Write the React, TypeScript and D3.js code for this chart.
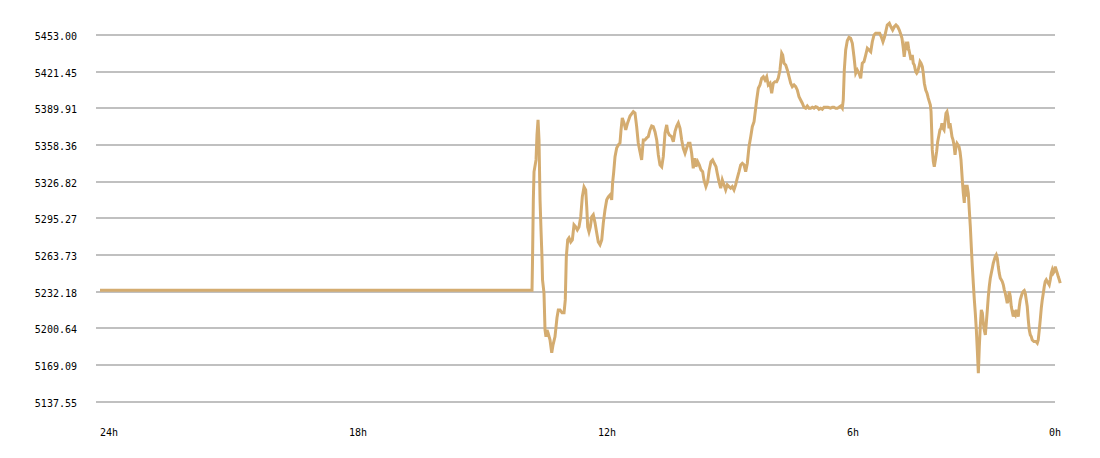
import React from "react";
import * as d3 from "d3";

// Y-axis tick values (price)
const yTicks = [5137.55, 5169.09, 5200.64, 5232.18, 5263.73, 5295.27, 5326.82, 5358.36, 5389.91, 5421.45, 5453.0];

// X-axis ticks: minutes since the start of the 24h window, with labels
const xTickMinutes = [0, 360, 720, 1080, 1440];
const xTickLabels = ["24h", "18h", "12h", "6h", "0h"];

// Price series: [minutes since window start, price]
const priceSeries: [number, number][] = [
  [0, 5233.4], [624.6, 5233.4], [625.3, 5257.7], [626.5, 5311.1], [627.5, 5335.2], [630.4, 5345.5],
  [631.8, 5367.0], [633.3, 5379.9], [634.7, 5362.7], [635.4, 5338.6], [636.2, 5311.1], [637.6, 5285.3],
  [639.0, 5262.0], [639.8, 5242.3], [641.9, 5231.1], [643.4, 5199.2], [644.8, 5193.2], [646.3, 5199.2],
  [647.7, 5196.7], [650.6, 5190.6], [653.1, 5179.5], [655.0, 5186.3], [657.8, 5193.2], [660.7, 5209.6],
  [662.6, 5216.4], [665.1, 5216.4], [668.0, 5213.9], [670.9, 5213.9], [672.7, 5225.0], [674.2, 5262.0],
  [676.2, 5276.7], [678.1, 5278.4], [680.6, 5274.9], [682.9, 5276.7], [685.3, 5289.6], [687.8, 5287.8],
  [690.1, 5285.3], [692.5, 5287.8], [695.0, 5296.4], [697.3, 5313.7], [699.8, 5322.3], [702.2, 5319.7],
  [703.7, 5305.1], [705.1, 5287.8], [707.0, 5283.5], [708.9, 5287.8], [710.9, 5296.4], [713.2, 5298.2],
  [715.7, 5291.3], [718.1, 5282.7], [720.4, 5274.9], [722.9, 5272.4], [725.4, 5276.7], [727.7, 5291.3],
  [730.1, 5302.5], [732.6, 5311.1], [734.9, 5313.7], [737.4, 5315.4], [739.8, 5311.1], [741.1, 5325.7],
  [742.6, 5334.3], [744.6, 5348.3], [747.0, 5355.8], [749.4, 5358.4], [751.8, 5360.1], [753.3, 5371.3],
  [755.1, 5381.6], [757.6, 5377.3], [760.1, 5371.3], [762.8, 5377.3], [766.3, 5383.3], [771.1, 5387.0],
  [773.5, 5385.9], [775.9, 5374.1], [778.2, 5360.1], [780.7, 5352.6], [783.1, 5345.5], [785.5, 5362.7],
  [787.9, 5362.7], [790.4, 5364.4], [792.7, 5365.5], [795.2, 5371.3], [797.6, 5374.7], [799.9, 5374.1],
  [802.4, 5369.8], [804.9, 5362.7], [807.2, 5349.8], [809.6, 5341.2], [812.1, 5339.5], [814.4, 5348.3],
  [816.9, 5368.7], [819.3, 5375.6], [820.8, 5369.8], [823.1, 5367.0], [826.5, 5365.5], [828.9, 5361.2],
  [831.3, 5369.8], [833.8, 5374.7], [836.1, 5377.3], [838.6, 5372.7], [841.0, 5362.7], [843.3, 5355.5],
  [845.8, 5351.2], [848.1, 5355.5], [850.6, 5359.8], [853.0, 5359.8], [855.4, 5351.2], [857.7, 5338.3],
  [860.2, 5346.9], [861.6, 5339.7], [864.1, 5344.0], [866.4, 5341.2], [868.9, 5336.9], [871.3, 5335.4],
  [873.2, 5328.3], [876.0, 5322.5], [878.5, 5326.8], [880.8, 5336.9], [883.3, 5344.0], [885.7, 5345.5],
  [888.0, 5342.6], [890.6, 5339.7], [892.4, 5334.0], [894.9, 5326.8], [897.4, 5321.1], [899.7, 5328.3],
  [902.2, 5324.0], [904.6, 5319.7], [906.9, 5324.0], [909.4, 5322.5], [911.8, 5321.1], [914.1, 5322.5],
  [916.6, 5319.7], [919.0, 5324.0], [921.3, 5329.7], [923.9, 5335.4], [926.3, 5341.2], [928.6, 5342.6],
  [931.1, 5341.2], [933.5, 5335.4], [935.9, 5342.6], [938.3, 5356.9], [940.8, 5365.5], [943.1, 5374.1],
  [945.6, 5378.4], [949.4, 5397.1], [951.8, 5407.2], [954.2, 5410.0], [956.7, 5415.8], [959.0, 5417.1],
  [961.5, 5414.3], [963.9, 5417.1], [966.2, 5410.0], [968.7, 5411.5], [971.1, 5402.9], [973.4, 5411.5],
  [975.9, 5412.8], [978.3, 5412.8], [980.6, 5415.8], [983.1, 5422.9], [985.6, 5437.3], [987.0, 5435.8],
  [988.9, 5428.7], [991.4, 5427.2], [993.7, 5422.9], [996.2, 5417.1], [998.6, 5411.5], [1000.9, 5408.5],
  [1003.4, 5410.0], [1005.8, 5408.5], [1008.1, 5405.7], [1010.6, 5399.9], [1013.0, 5397.1], [1015.4, 5394.3],
  [1017.8, 5390.8], [1020.3, 5390.0], [1022.6, 5391.9], [1025.1, 5390.0], [1027.4, 5390.0], [1029.8, 5390.8],
  [1032.3, 5390.0], [1034.7, 5391.3], [1037.0, 5390.8], [1039.5, 5389.1], [1041.9, 5390.0], [1044.3, 5389.1],
  [1046.8, 5390.8], [1049.6, 5390.8], [1052.5, 5390.8], [1056.3, 5390.0], [1058.7, 5390.8], [1061.2, 5390.8],
  [1063.6, 5390.0], [1066.0, 5390.0], [1068.4, 5390.8], [1070.9, 5391.9], [1073.2, 5390.0], [1074.6, 5397.1],
  [1076.1, 5422.9], [1078.1, 5440.1], [1080.4, 5448.1], [1082.9, 5451.0], [1085.3, 5450.2], [1087.7, 5445.9],
  [1090.1, 5434.3], [1092.6, 5420.1], [1094.9, 5422.9], [1097.4, 5420.1], [1099.8, 5415.8], [1102.1, 5428.7],
  [1104.6, 5430.0], [1107.1, 5435.8], [1109.4, 5441.6], [1111.8, 5440.1], [1114.3, 5438.6], [1116.6, 5447.2],
  [1119.1, 5453.0], [1121.5, 5454.5], [1123.8, 5454.5], [1127.2, 5454.5], [1129.6, 5451.5], [1132.0, 5447.2],
  [1134.4, 5451.5], [1138.2, 5461.6], [1141.2, 5463.1], [1143.5, 5460.1], [1146.0, 5457.3], [1148.4, 5460.1],
  [1150.8, 5461.6], [1153.3, 5460.1], [1155.6, 5457.3], [1158.1, 5453.0], [1159.5, 5450.2], [1161.4, 5441.6],
  [1162.7, 5434.3], [1164.8, 5444.4], [1166.2, 5442.9], [1167.7, 5447.2], [1169.1, 5441.6], [1171.1, 5435.8],
  [1172.5, 5431.5], [1174.4, 5435.8], [1175.8, 5428.7], [1177.3, 5427.2], [1179.3, 5421.4], [1180.8, 5420.1],
  [1182.2, 5421.4], [1184.1, 5425.7], [1185.6, 5430.0], [1187.0, 5428.7], [1188.9, 5425.7], [1190.3, 5420.1],
  [1191.8, 5411.5], [1193.8, 5405.7], [1195.7, 5402.9], [1197.5, 5398.6], [1199.0, 5395.6], [1200.5, 5392.8],
  [1201.5, 5387.0], [1202.5, 5369.8], [1203.3, 5354.1], [1204.8, 5344.0], [1206.2, 5339.7], [1208.2, 5346.9],
  [1209.6, 5352.6], [1211.1, 5361.2], [1213.0, 5367.0], [1214.4, 5371.3], [1215.9, 5372.7], [1217.3, 5377.0],
  [1218.8, 5372.7], [1220.3, 5371.3], [1221.7, 5378.4], [1223.1, 5385.6], [1224.6, 5387.0], [1226.0, 5382.7],
  [1227.5, 5372.7], [1228.9, 5377.0], [1230.4, 5371.3], [1231.8, 5365.5], [1233.3, 5362.7], [1234.7, 5358.4],
  [1236.2, 5349.8], [1237.6, 5356.9], [1239.0, 5359.8], [1240.5, 5358.4], [1241.9, 5356.9], [1243.4, 5352.6],
  [1244.8, 5345.5], [1246.7, 5328.3], [1248.1, 5317.1], [1249.6, 5308.5], [1250.6, 5324.0], [1252.1, 5313.9],
  [1253.5, 5324.0], [1255.4, 5316.8], [1256.8, 5302.5], [1258.3, 5288.1], [1259.7, 5270.9], [1261.2, 5253.7],
  [1262.6, 5239.4], [1264.1, 5225.0], [1265.5, 5213.6], [1267.0, 5199.2], [1268.4, 5182.0], [1269.9, 5162.0],
  [1271.3, 5184.9], [1272.7, 5202.1], [1274.2, 5216.4], [1275.7, 5213.6], [1277.1, 5205.0], [1278.5, 5199.2],
  [1280.0, 5194.9], [1281.4, 5205.0], [1282.9, 5216.4], [1284.3, 5227.9], [1285.7, 5236.5], [1287.2, 5243.7],
  [1288.6, 5248.0], [1290.1, 5252.3], [1291.5, 5256.6], [1293.0, 5259.5], [1294.4, 5262.3], [1295.8, 5263.8],
  [1297.3, 5260.9], [1298.7, 5253.7], [1300.1, 5248.0], [1301.6, 5243.7], [1303.1, 5242.3], [1304.5, 5240.8],
  [1306.0, 5238.0], [1307.4, 5233.7], [1308.8, 5230.8], [1310.3, 5226.5], [1311.7, 5222.2], [1313.2, 5225.0],
  [1314.6, 5232.2], [1316.1, 5227.9], [1317.5, 5219.3], [1318.9, 5215.0], [1320.4, 5210.7], [1321.8, 5213.6],
  [1323.3, 5212.1], [1324.7, 5216.4], [1326.2, 5213.6], [1327.6, 5210.7], [1329.1, 5219.3], [1330.5, 5225.0],
  [1331.9, 5227.9], [1333.4, 5230.8], [1334.8, 5232.2], [1336.3, 5233.0], [1337.7, 5230.8], [1339.2, 5225.0],
  [1340.6, 5219.3], [1342.1, 5207.8], [1343.5, 5199.2], [1345.0, 5194.9], [1346.4, 5193.5], [1347.8, 5190.6],
  [1350.3, 5189.2], [1353.2, 5189.2], [1355.1, 5187.8], [1356.5, 5190.6], [1358.0, 5199.2], [1359.4, 5207.8],
  [1360.9, 5217.9], [1362.3, 5225.0], [1363.8, 5230.8], [1365.2, 5236.5], [1366.6, 5240.8], [1368.1, 5242.3],
  [1369.5, 5240.8], [1371.0, 5239.4], [1372.4, 5238.0], [1373.9, 5242.3], [1375.3, 5248.0], [1376.8, 5250.9],
  [1378.2, 5248.0], [1379.7, 5249.4], [1381.1, 5253.7], [1382.5, 5250.9], [1384.0, 5248.0], [1385.4, 5245.1],
  [1386.9, 5242.3], [1388.3, 5239.4],
];

const W = 1100;
const H = 458;
const FONT = "'DejaVu Sans Mono', 'Liberation Mono', monospace";

export default function App() {
  const x = d3.scaleLinear().domain([0, 1440]).range([100, 1096]);
  const y = d3.scaleLinear().domain([5137.55, 5453.0]).range([401.5, 35]);

  const line = d3
    .line<[number, number]>()
    .x((d) => x(d[0]))
    .y((d) => y(d[1]))
    .curve(d3.curveLinear);

  const gridLeft = x(0) - 4;
  const gridRight = 1055;

  return (
    <svg
      width={W}
      height={H}
      style={{ position: "absolute", left: 0, top: 0, background: "#fff" }}
    >
      <g>
        {yTicks.map((v) => (
          <g key={v}>
            <line
              x1={gridLeft}
              x2={gridRight}
              y1={y(v)}
              y2={y(v)}
              stroke="#c0c0c0"
              strokeWidth={2}
              shapeRendering="crispEdges"
            />
            <text
              x={77}
              y={y(v) + 5}
              textAnchor="end"
              fontFamily={FONT}
              fontSize={10}
              fill="#000"
            >
              {v.toFixed(2)}
            </text>
          </g>
        ))}
      </g>
      <g>
        {xTickMinutes.map((m, i) => {
          const last = i === xTickMinutes.length - 1;
          return (
            <text
              key={m}
              x={last ? gridRight + 6 : x(m)}
              y={436}
              textAnchor={last ? "end" : "start"}
              fontFamily={FONT}
              fontSize={10}
              fill="#000"
            >
              {xTickLabels[i]}
            </text>
          );
        })}
      </g>
      <path
        d={line(priceSeries) || ""}
        fill="none"
        stroke="rgb(212,172,112)"
        strokeWidth={3}
        strokeLinejoin="miter"
      />
    </svg>
  );
}
